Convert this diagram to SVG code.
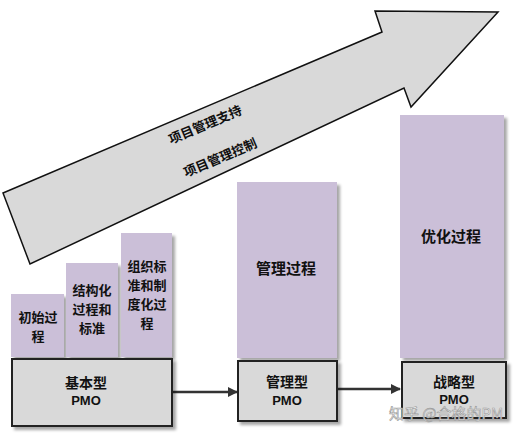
<svg xmlns="http://www.w3.org/2000/svg" width="517" height="433" viewBox="0 0 517 433">
<defs>
<style>
.bar{fill:#cbbfd8;filter:url(#sh);}
.box{fill:#d9d9d9;stroke:#222;stroke-width:2;filter:url(#sh);}
.cn{font-family:"Noto Sans CJK SC","Liberation Sans",sans-serif;font-weight:bold;fill:#111;text-anchor:middle;}
.en{font-family:"Liberation Sans",Arial,sans-serif;font-weight:bold;fill:#111;text-anchor:middle;font-size:13px;}
.conn{stroke:#333;stroke-width:2.5;fill:none;marker-end:url(#ah);}
.wm{font-family:"Noto Sans CJK SC","Liberation Sans",sans-serif;font-size:15px;text-anchor:middle;fill:#fff;fill-opacity:0.85;stroke:#999;stroke-width:0.6;}
</style>
<filter id="sh" x="-10%" y="-10%" width="130%" height="130%">
<feDropShadow dx="3" dy="3" stdDeviation="1.5" flood-color="#000" flood-opacity="0.35"/>
</filter>
<marker id="ah" markerWidth="10" markerHeight="10" refX="9" refY="5" orient="auto" markerUnits="userSpaceOnUse">
<path d="M0,0 L10,5 L0,10 z" fill="#333"/>
</marker>
</defs>
<rect width="517" height="433" fill="#fff"/>

<g id="big-arrow">
<polygon points="3,193 382,32 375,11 498,12 411,107 404,88 30,264" fill="#d9d9d9" stroke="#111" stroke-width="1.5" stroke-linejoin="miter"/>
<text class="cn" font-size="13" transform="translate(207,129) rotate(-23)">项目管理支持</text>
<text class="cn" font-size="13" transform="translate(222,162) rotate(-23)">项目管理控制</text>
</g>

<g id="connectors">
<line class="conn" x1="173" y1="392" x2="237" y2="392"/>
<line class="conn" x1="338" y1="389" x2="400" y2="389"/>
</g>

<g id="bar-init">
<rect class="bar" x="11" y="294" width="53" height="63"/>
<text class="cn" font-size="13" x="38" y="322">初始过</text>
<text class="cn" font-size="13" x="38" y="341">程</text>
</g>
<g id="bar-struct">
<rect class="bar" x="66" y="263" width="52" height="94"/>
<text class="cn" font-size="13" x="92" y="295">结构化</text>
<text class="cn" font-size="13" x="92" y="314">过程和</text>
<text class="cn" font-size="13" x="92" y="333">标准</text>
</g>
<g id="bar-org">
<rect class="bar" x="121" y="233" width="51" height="124"/>
<text class="cn" font-size="13" x="147" y="271">组织标</text>
<text class="cn" font-size="13" x="147" y="290">准和制</text>
<text class="cn" font-size="13" x="147" y="309">度化过</text>
<text class="cn" font-size="13" x="147" y="328">程</text>
</g>
<g id="box-basic">
<rect class="box" x="12" y="359" width="160" height="67"/>
<text class="cn" font-size="14" x="86" y="388">基本型</text>
<text class="en" x="86" y="405">PMO</text>
</g>

<g id="bar-manage">
<rect class="bar" x="237" y="182" width="100" height="176"/>
<text class="cn" font-size="15" x="286" y="274">管理过程</text>
</g>
<g id="box-manage">
<rect class="box" x="238" y="361" width="99" height="60"/>
<text class="cn" font-size="14" x="287" y="387">管理型</text>
<text class="en" x="287" y="405">PMO</text>
</g>

<g id="bar-optimize">
<rect class="bar" x="400" y="115" width="104" height="243"/>
<text class="cn" font-size="15" x="451" y="242">优化过程</text>
</g>
<g id="box-strategy">
<rect class="box" x="402" y="362" width="104" height="56"/>
<text class="cn" font-size="14" x="454" y="387">战略型</text>
<text class="en" x="454" y="404">PMO</text>
</g>

<text class="wm" x="446" y="419">知乎 @合格的PM</text>
</svg>
